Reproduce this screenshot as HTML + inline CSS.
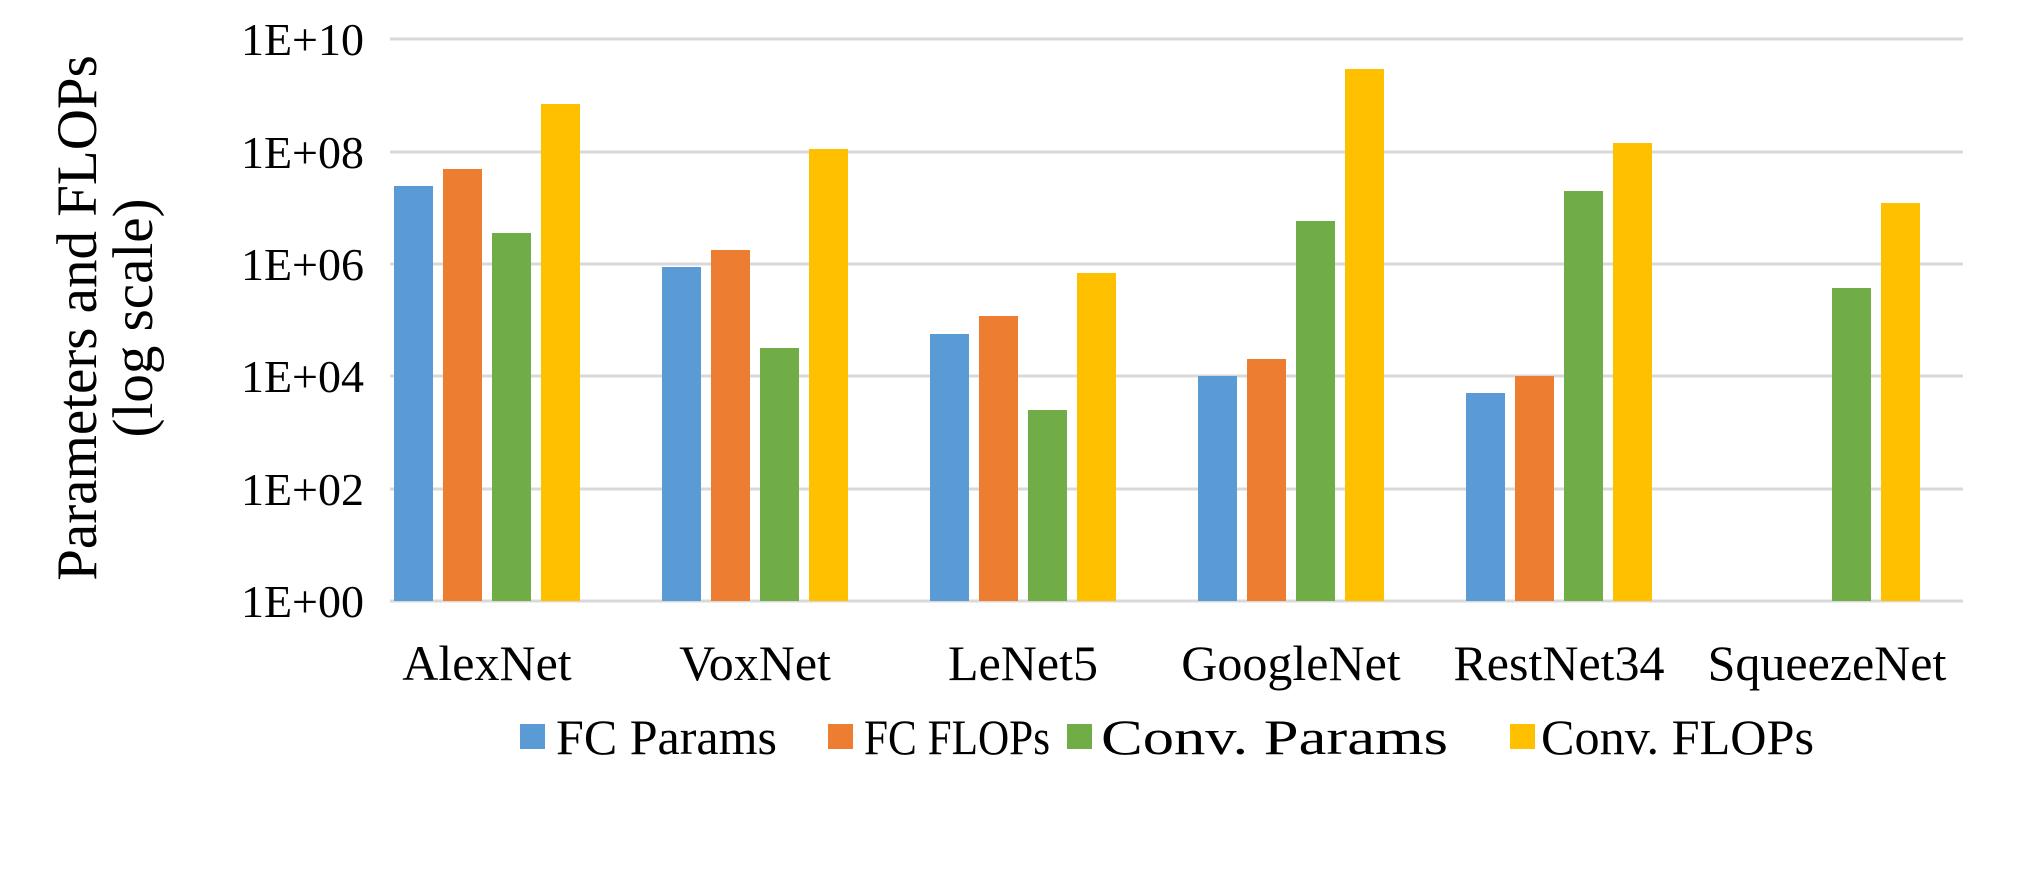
<!DOCTYPE html>
<html><head><meta charset="utf-8"><style>
html,body{margin:0;padding:0;background:#fff;}
svg text{font-family:"Liberation Serif",serif;fill:#000;}
</style></head><body>
<svg width="2036" height="868" viewBox="0 0 2036 868" xmlns="http://www.w3.org/2000/svg">
<g stroke="#D9D9D9" stroke-width="3">
<line x1="390" x2="1963" y1="39" y2="39"/>
<line x1="390" x2="1963" y1="152" y2="152"/>
<line x1="390" x2="1963" y1="264" y2="264"/>
<line x1="390" x2="1963" y1="376" y2="376"/>
<line x1="390" x2="1963" y1="489" y2="489"/>
<line x1="390" x2="1963" y1="601" y2="601"/>
</g>
<g font-size="46" text-anchor="end">
<text x="364" y="55">1E+10</text>
<text x="364" y="168">1E+08</text>
<text x="364" y="280">1E+06</text>
<text x="364" y="392">1E+04</text>
<text x="364" y="505">1E+02</text>
<text x="364" y="617">1E+00</text>
</g>
<g font-size="57" text-anchor="middle">
<text transform="translate(96,318) rotate(-90)">Parameters and FLOPs</text>
<text transform="translate(152,318) rotate(-90)">(log scale)</text>
</g>
<g>
<rect x="394" y="186" width="39" height="415" fill="#5B9BD5"/>
<rect x="443" y="169" width="39" height="432" fill="#ED7D31"/>
<rect x="492" y="233" width="39" height="368" fill="#70AD47"/>
<rect x="541" y="104" width="39" height="497" fill="#FFC000"/>
<rect x="662" y="267" width="39" height="334" fill="#5B9BD5"/>
<rect x="711" y="250" width="39" height="351" fill="#ED7D31"/>
<rect x="760" y="348" width="39" height="253" fill="#70AD47"/>
<rect x="809" y="149" width="39" height="452" fill="#FFC000"/>
<rect x="930" y="334" width="39" height="267" fill="#5B9BD5"/>
<rect x="979" y="316" width="39" height="285" fill="#ED7D31"/>
<rect x="1028" y="410" width="39" height="191" fill="#70AD47"/>
<rect x="1077" y="273" width="39" height="328" fill="#FFC000"/>
<rect x="1198" y="376" width="39" height="225" fill="#5B9BD5"/>
<rect x="1247" y="359" width="39" height="242" fill="#ED7D31"/>
<rect x="1296" y="221" width="39" height="380" fill="#70AD47"/>
<rect x="1345" y="69" width="39" height="532" fill="#FFC000"/>
<rect x="1466" y="393" width="39" height="208" fill="#5B9BD5"/>
<rect x="1515" y="376" width="39" height="225" fill="#ED7D31"/>
<rect x="1564" y="191" width="39" height="410" fill="#70AD47"/>
<rect x="1613" y="143" width="39" height="458" fill="#FFC000"/>
<rect x="1832" y="288" width="39" height="313" fill="#70AD47"/>
<rect x="1881" y="203" width="39" height="398" fill="#FFC000"/>
</g>
<g font-size="50" text-anchor="middle">
<text x="487" y="680">AlexNet</text>
<text x="755" y="680">VoxNet</text>
<text x="1023" y="680">LeNet5</text>
<text x="1291" y="680">GoogleNet</text>
<text x="1559" y="680">RestNet34</text>
<text x="1827" y="680">SqueezeNet</text>
</g>
<g font-size="50">
<rect x="520" y="724" width="25" height="25" fill="#5B9BD5"/>
<text x="556" y="754" textLength="221" lengthAdjust="spacingAndGlyphs">FC Params</text>
<rect x="828" y="724" width="25" height="25" fill="#ED7D31"/>
<text x="864" y="754" textLength="186" lengthAdjust="spacingAndGlyphs">FC FLOPs</text>
<rect x="1067" y="724" width="25" height="25" fill="#70AD47"/>
<text x="1101" y="754" textLength="347" lengthAdjust="spacingAndGlyphs">Conv. Params</text>
<rect x="1510" y="724" width="25" height="25" fill="#FFC000"/>
<text x="1541" y="754" textLength="273" lengthAdjust="spacingAndGlyphs">Conv. FLOPs</text>
</g>
</svg>
</body></html>
